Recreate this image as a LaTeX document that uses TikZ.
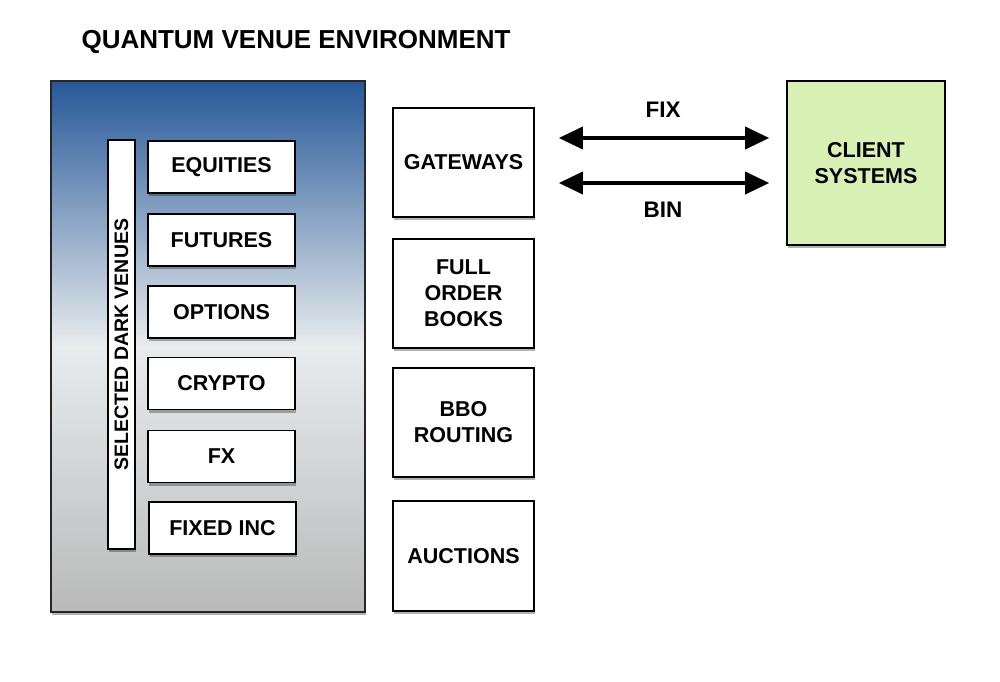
\documentclass[tikz,border=0pt]{standalone}
\usepackage{fontspec}
\setmainfont{Liberation Sans}
\usetikzlibrary{shadows,arrows.meta}
\definecolor{envtop}{RGB}{38,88,152}
\definecolor{envmid}{RGB}{232,236,238}
\definecolor{envbot}{RGB}{185,185,185}
\definecolor{clientfill}{RGB}{217,240,181}
\begin{document}
\begin{tikzpicture}[x=1pt,y=-1pt,
  shadowed/.style={drop shadow={shadow xshift=1pt,shadow yshift=-3pt,opacity=0.3,fill=black}},
  box/.style={draw=black,line width=1.6pt,fill=white,inner sep=0pt,align=center,
    font=\fontsize{21.5}{26}\selectfont\bfseries,shadowed},
  venue/.style={box,minimum width=147pt,minimum height=52pt},
  func/.style={box,minimum width=141pt,minimum height=109pt},
  dbl/.style={line width=3.6pt,{Triangle[length=24pt,width=22pt]}-{Triangle[length=24pt,width=22pt]}},
  lbl/.style={font=\fontsize{22.5}{26}\selectfont\bfseries}]
\useasboundingbox (0,0) rectangle (1000,681);

\node[anchor=base west,font=\fontsize{26}{30}\selectfont\bfseries] (title) at (78,48) {QUANTUM VENUE ENVIRONMENT};

\node[draw=black!85,line width=1.2pt,inner sep=0pt,minimum width=314pt,minimum height=531pt,
  top color=envtop,bottom color=envbot,middle color=envmid,shadowed] (env) at (208,346.5) {};

\node[box,rotate=90,minimum width=409pt,minimum height=27pt,font=\fontsize{19.5}{22}\selectfont\bfseries] (sdv) at (121.5,344.5) {SELECTED DARK VENUES};

\node[venue] (eq) at (221.5,167) {EQUITIES};
\node[venue] (fu) at (221.5,240) {FUTURES};
\node[venue] (op) at (221.5,312) {OPTIONS};
\node[venue] (cr) at (221.5,383.5) {CRYPTO};
\node[venue] (fx) at (221.5,456.5) {FX};
\node[venue] (fi) at (222.5,528) {FIXED INC};

\node[func] (gw) at (463.5,162.5) {GATEWAYS};
\node[func] (fob) at (463.5,293.5) {FULL\\ORDER\\BOOKS};
\node[func] (bbo) at (463.5,422.5) {BBO\\ROUTING};
\node[func,minimum height=110pt] (auc) at (463.5,556) {AUCTIONS};

\node[box,fill=clientfill,minimum width=158pt,minimum height=164pt] (cl) at (866,163) {CLIENT\\SYSTEMS};

\draw[dbl] ([shift={(24,-24.5)}]gw.east) -- ([shift={(-17,-25)}]cl.west);
\draw[dbl] ([shift={(24,20.5)}]gw.east) -- ([shift={(-17,20)}]cl.west);
\node[lbl] (fix) at (663,110) {FIX};
\node[lbl] (bin) at (663,210) {BIN};
\end{tikzpicture}
\end{document}
